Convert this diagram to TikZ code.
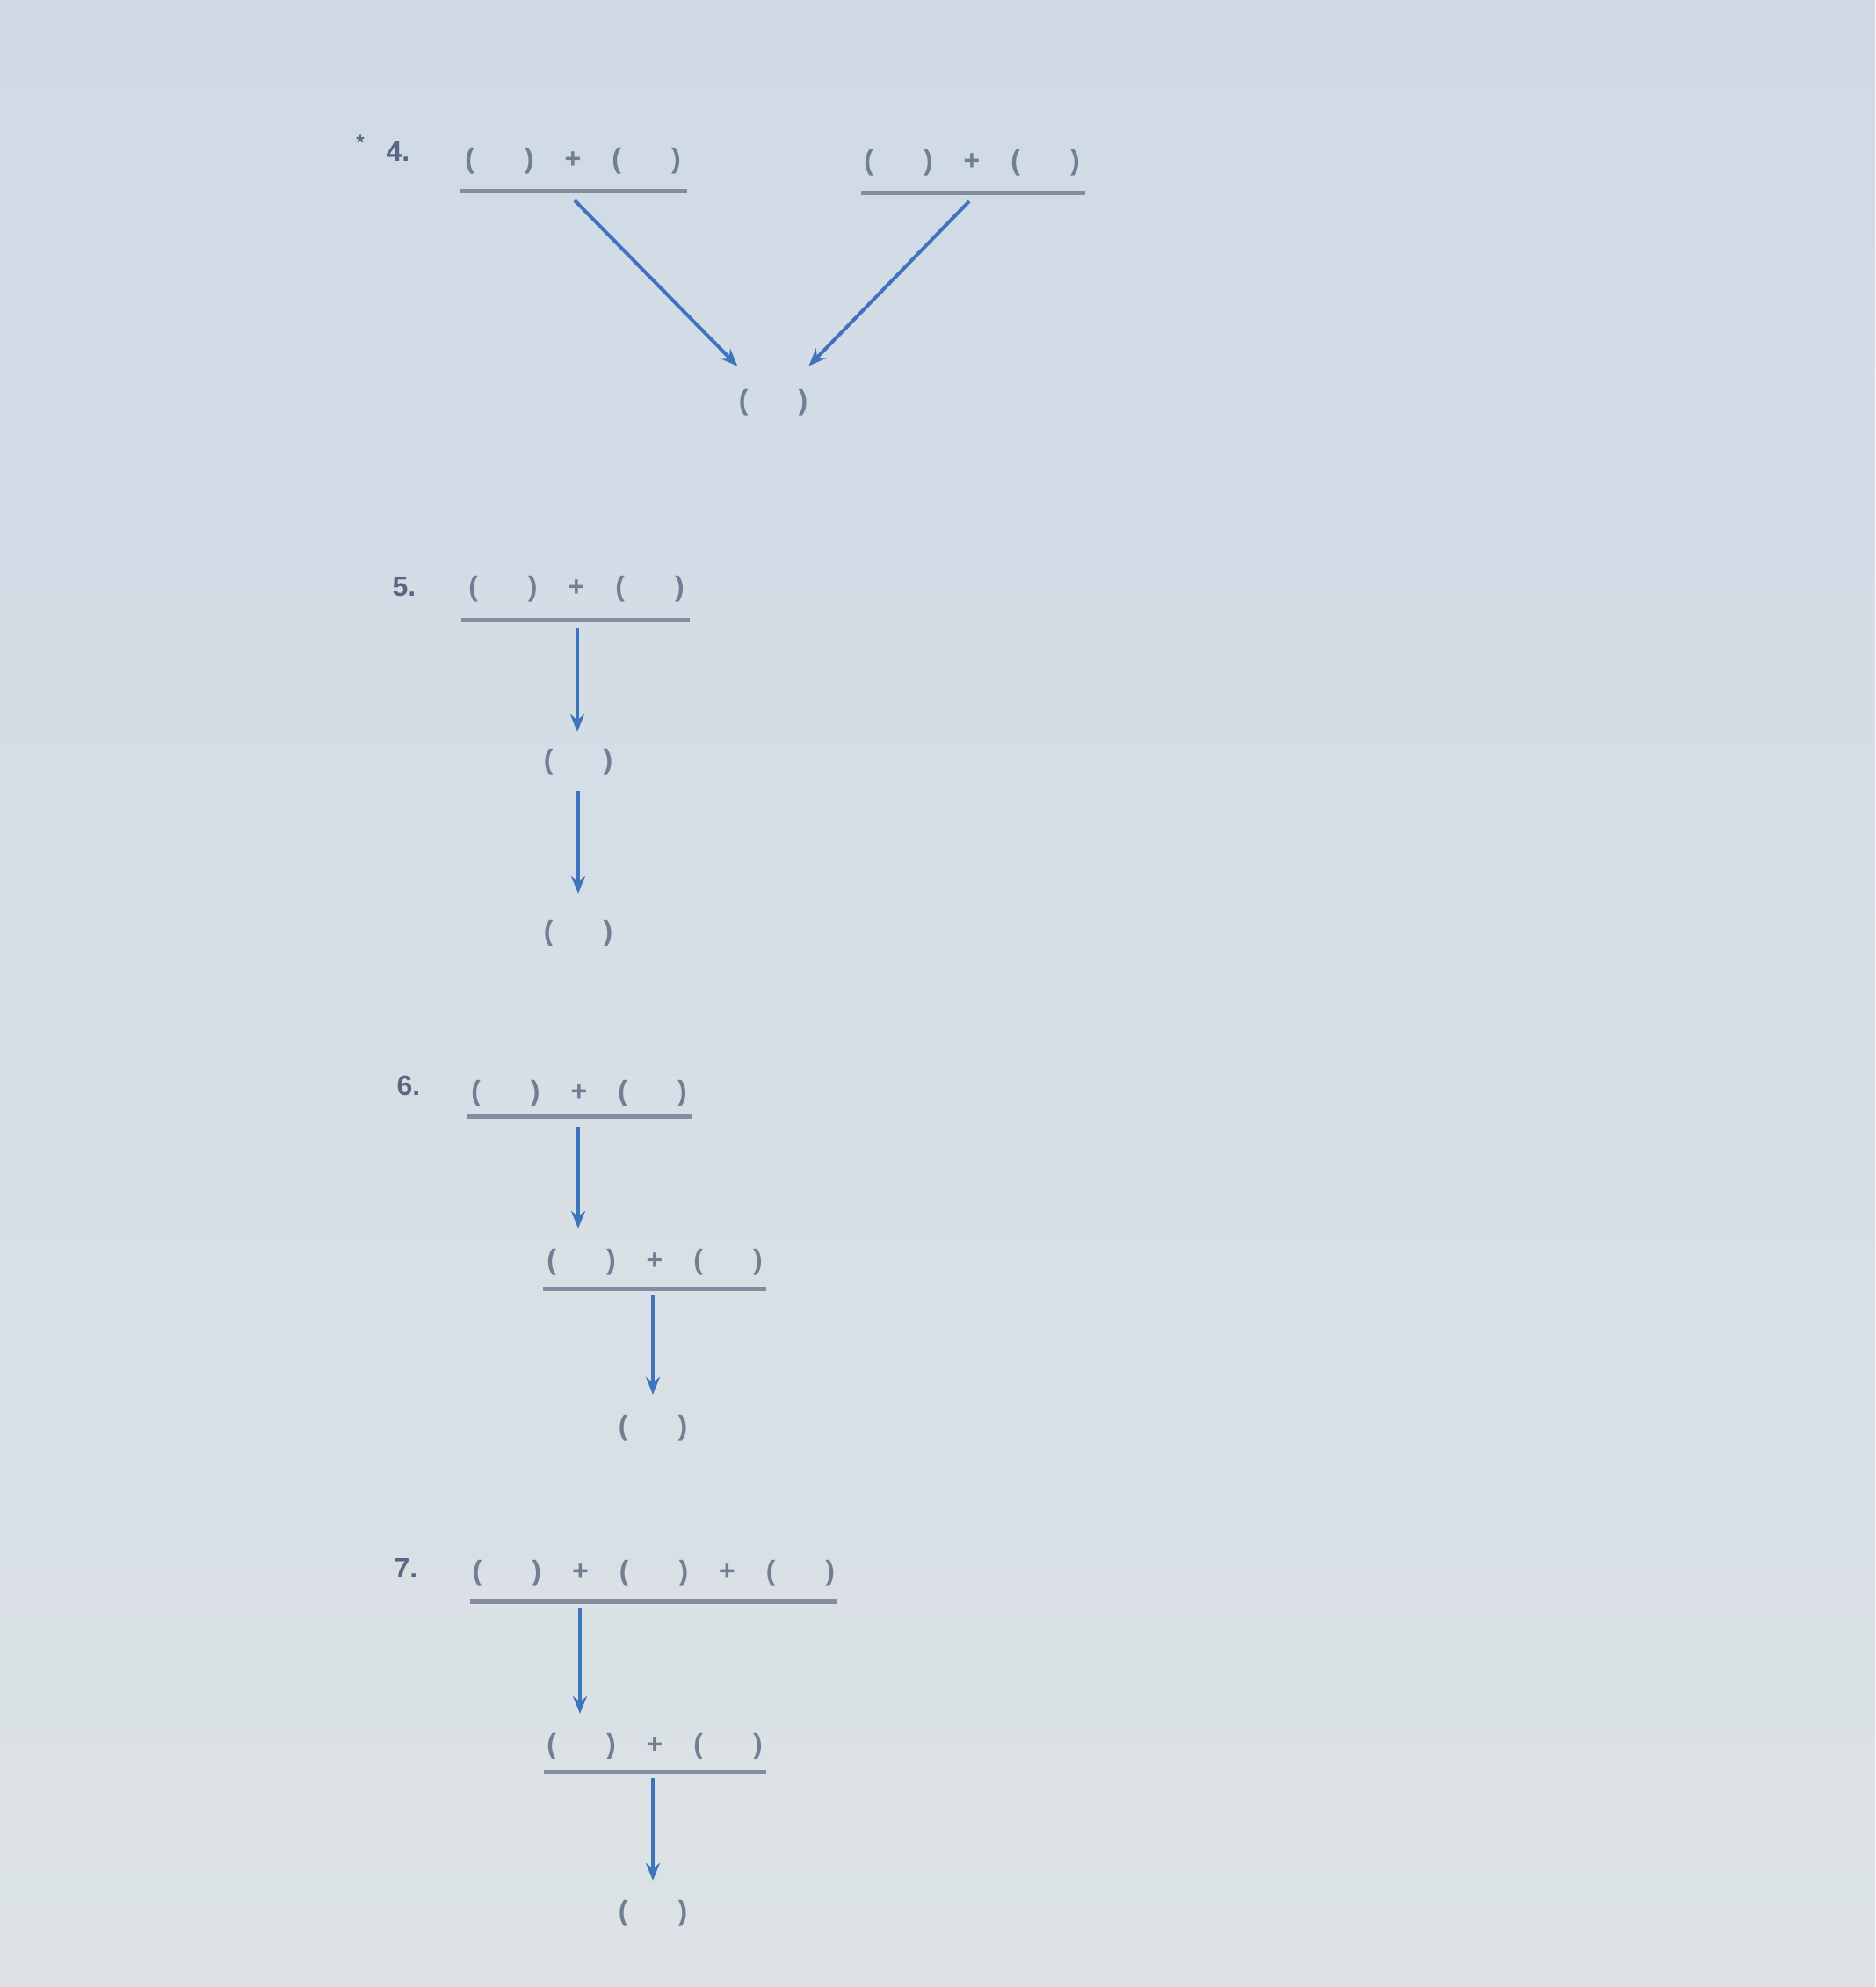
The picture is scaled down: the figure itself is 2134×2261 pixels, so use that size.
\documentclass[tikz,border=0pt]{standalone}
\usepackage{fontspec}
\setmainfont{Liberation Sans}
\usetikzlibrary{arrows.meta}
\definecolor{bgtop}{HTML}{D0DAE6}
\definecolor{bgbot}{HTML}{DCE2E5}
\definecolor{txt}{HTML}{727E93}
\definecolor{lbl}{HTML}{5A6784}
\definecolor{uln}{HTML}{838DA0}
\definecolor{arw}{HTML}{3D74BC}
\newcommand\blk{(\hspace{57pt})}
\newcommand\pl{\hspace{35pt}+\hspace{35pt}}
\tikzset{
  expr/.style={inner sep=0pt, text=txt, font=\fontsize{32}{38}\selectfont\bfseries},
  num/.style={inner sep=0pt, text=lbl, font=\fontsize{32}{38}\selectfont\bfseries},
  uline/.style={draw=uln, line width=5pt},
  arr/.style={draw=arw, line width=4pt, -{Stealth[length=20pt,width=16pt]}},
}
\begin{document}
\begin{tikzpicture}[x=1pt,y=-1pt]
\useasboundingbox (0,0) rectangle (2134,2261);
\shade[top color=bgtop,bottom color=bgbot] (0,0) rectangle (2134,2261);

% ---- item 4
\node[num] (s4) at (410,162) {\fontsize{24}{28}\selectfont *};
\node[num] (n4) at (453,172) {4.};
\node[expr] (e4a) at (652,183) {\blk\pl\blk};
\node[expr] (e4b) at (1106,185) {\blk\pl\blk};
\coordinate (u4al) at (523,217); \coordinate (u4ar) at (782,217);
\coordinate (u4bl) at (980,219); \coordinate (u4br) at (1235,219);
\draw[uline] (u4al) -- (u4ar);
\draw[uline] (u4bl) -- (u4br);
\node[expr] (r4) at (880,458) {\blk};
\coordinate (a4a) at (654,228);
\coordinate (a4b) at (1103,229);
\draw[arr, shorten >=58pt] (a4a) -- (r4.center);
\draw[arr, shorten >=58pt] (a4b) -- (r4.center);

% ---- item 5
\node[num] (n5) at (460,668) {5.};
\node[expr] (e5a) at (656,670) {\blk\pl\blk};
\coordinate (u5l) at (525,705); \coordinate (u5r) at (785,705);
\draw[uline] (u5l) -- (u5r);
\node[expr] (r5a) at (658,867) {\blk};
\node[expr] (r5b) at (658,1062) {\blk};
\coordinate (a5a) at (657,715);
\draw[arr, shorten >=19pt] (a5a) -- (a5a |- r5a.north);
\draw[arr, shorten <=18pt, shorten >=30pt] (r5a.south) -- (r5b.north);

% ---- item 6
\node[num] (n6) at (465,1235) {6.};
\node[expr] (e6a) at (659,1244) {\blk\pl\blk};
\coordinate (u6al) at (532,1270); \coordinate (u6ar) at (787,1270);
\draw[uline] (u6al) -- (u6ar);
\node[expr] (e6b) at (745,1436) {\blk\pl\blk};
\coordinate (u6bl) at (618,1466); \coordinate (u6br) at (872,1466);
\draw[uline] (u6bl) -- (u6br);
\node[expr] (r6) at (743,1625) {\blk};
\coordinate (a6a) at (658,1282);
\coordinate (a6b) at (743,1474);
\draw[arr, shorten >=23pt] (a6a) -- (a6a |- e6b.north);
\draw[arr, shorten >=23pt] (a6b) -- (a6b |- r6.north);

% ---- item 7
\node[num] (n7) at (462,1784) {7.};
\node[expr] (e7a) at (744,1790) {\blk\pl\blk\pl\blk};
\coordinate (u7al) at (535,1822); \coordinate (u7ar) at (952,1822);
\draw[uline] (u7al) -- (u7ar);
\node[expr] (e7b) at (745,1987) {\blk\pl\blk};
\coordinate (u7bl) at (619,2016); \coordinate (u7br) at (872,2016);
\draw[uline] (u7bl) -- (u7br);
\node[expr] (r7) at (743,2177) {\blk};
\coordinate (a7a) at (660,1830);
\coordinate (a7b) at (743,2023);
\draw[arr, shorten >=22pt] (a7a) -- (a7a |- e7b.north);
\draw[arr, shorten >=22pt] (a7b) -- (a7b |- r7.north);
\end{tikzpicture}
\end{document}
